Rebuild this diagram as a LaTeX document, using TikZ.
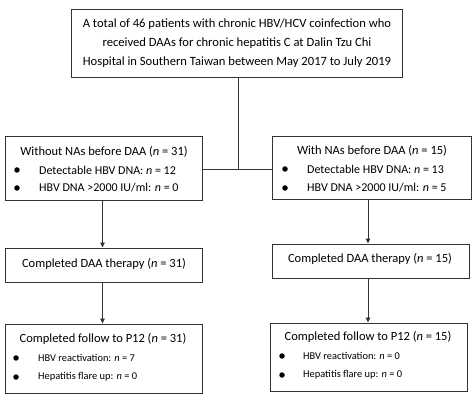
\documentclass[tikz,border=0pt]{standalone}
\usepackage{fontspec}
\setmainfont{Carlito}
\usetikzlibrary{arrows.meta}
\begin{document}
\begin{tikzpicture}[x=1pt,y=-1pt,
  box/.style={draw=black!80,line width=0.9pt,rectangle,inner sep=0pt},
  ttl/.style={font=\fontsize{12.5}{14}\selectfont,inner sep=0pt},
  itm/.style={font=\fontsize{12}{13}\selectfont,inner sep=0pt,anchor=west},
  itms/.style={font=\fontsize{10.4}{12}\selectfont,inner sep=0pt,anchor=west},
  dot/.style={circle,fill=black,inner sep=0pt,minimum size=5.5pt},
  conn/.style={draw=black!80,line width=0.9pt},
  arr/.style={conn,-{Triangle[length=5pt,width=4.5pt]}}]
\useasboundingbox (0,0) rectangle (474,403);
% boxes
\node[box,minimum width=331pt,minimum height=68pt] (top) at (236.5,43) {};
\node[box,minimum width=197pt,minimum height=64pt] (lA) at (103.5,168) {};
\node[box,minimum width=199pt,minimum height=63pt] (rA) at (371.5,167.5) {};
\node[box,minimum width=197pt,minimum height=34pt] (lB) at (103.5,265) {};
\node[box,minimum width=197pt,minimum height=34pt] (rB) at (370.5,261) {};
\node[box,minimum width=197pt,minimum height=69pt] (lC) at (103.5,358.5) {};
\node[box,minimum width=197pt,minimum height=68pt] (rC) at (368.5,357) {};
% top text
\node[ttl,align=center,font=\fontsize{12.6}{19}\selectfont] (tt) at (237,43) {A total of 46 patients with chronic HBV/HCV coinfection who\\received DAAs for chronic hepatitis C at Dalin Tzu Chi\\Hospital in Southern Taiwan between May 2017 to July 2019};
% left A
\node[ttl] (lAt) at (104,152) {Without NAs before DAA (\textit{n} = 31)};
\node[dot] (lAd1) at (17,170) {};
\node[itm] (lAi1) at (39,170) {Detectable HBV DNA: \textit{n} = 12};
\node[dot] (lAd2) at (17,188) {};
\node[itm] (lAi2) at (39,188) {HBV DNA >2000 IU/ml: \textit{n} = 0};
% right A
\node[ttl] (rAt) at (372,151) {With NAs before DAA (\textit{n} = 15)};
\node[dot] (rAd1) at (285,169) {};
\node[itm] (rAi1) at (307,169) {Detectable HBV DNA: \textit{n} = 13};
\node[dot] (rAd2) at (285,188) {};
\node[itm] (rAi2) at (307,188) {HBV DNA >2000 IU/ml: \textit{n} = 5};
% B
\node[ttl] (lBt) at (104,264) {Completed DAA therapy (\textit{n} = 31)};
\node[ttl] (rBt) at (370,259) {Completed DAA therapy (\textit{n} = 15)};
% left C
\node[ttl] (lCt) at (103,339) {Completed follow to P12 (\textit{n} = 31)};
\node[dot] (lCd1) at (16,358) {};
\node[itms] (lCi1) at (38,358) {HBV reactivation: \textit{n} = 7};
\node[dot] (lCd2) at (16,377) {};
\node[itms] (lCi2) at (38,377) {Hepatitis flare up: \textit{n} = 0};
% right C
\node[ttl] (rCt) at (368,337) {Completed follow to P12 (\textit{n} = 15)};
\node[dot] (rCd1) at (282,356) {};
\node[itms] (rCi1) at (303,356) {HBV reactivation: \textit{n} = 0};
\node[dot] (rCd2) at (282,375) {};
\node[itms] (rCi2) at (303,375) {Hepatitis flare up: \textit{n} = 0};
% connectors
\coordinate (j) at (238,169);
\draw[conn] (top.south -| j) -- (j);
\draw[conn] (lA.east |- j) -- (rA.west |- j);
\draw[arr] (lA.south -| 102.5,0) -- (lB.north -| 102.5,0);
\draw[arr] (rA.south -| 368,0) -- (rB.north -| 368,0);
\draw[arr] (lB.south -| 102.5,0) -- (lC.north -| 102.5,0);
\draw[arr] (rB.south -| 368,0) -- (rC.north -| 368,0);
\end{tikzpicture}
\end{document}
